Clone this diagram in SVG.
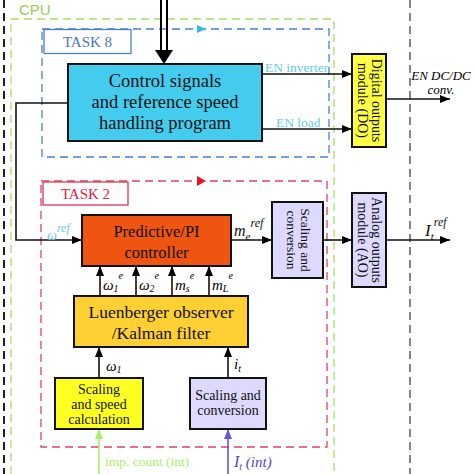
<svg xmlns="http://www.w3.org/2000/svg" width="474" height="474" viewBox="0 0 474 474">
<defs>
<marker id="ah" markerWidth="10" markerHeight="8" refX="10" refY="4" orient="auto" markerUnits="userSpaceOnUse"><path d="M0,0 L10,4 L0,8 z" fill="#000"/></marker>
<marker id="ahg" markerWidth="10" markerHeight="8" refX="10" refY="4" orient="auto" markerUnits="userSpaceOnUse"><path d="M0,0 L10,4 L0,8 z" fill="#aaee66"/></marker>
<marker id="ahp" markerWidth="10" markerHeight="8" refX="10" refY="4" orient="auto" markerUnits="userSpaceOnUse"><path d="M0,0 L10,4 L0,8 z" fill="#6655dd"/></marker>
</defs>
<style>
.t{font-family:"Liberation Serif","DejaVu Serif",serif;text-anchor:middle;fill:#111}
.box{stroke:#111;stroke-width:2}
.c{stroke:#111;stroke-width:1.6;fill:none}
.lab{font-family:"Liberation Serif","DejaVu Serif",serif;font-size:13.5px}
.it{font-family:"Liberation Serif","DejaVu Serif",serif;font-style:italic}
</style>
<rect width="474" height="474" fill="#fff"/>
<g id="boundaries">
<line x1="4" y1="0" x2="4" y2="474" stroke="#222" stroke-width="2" stroke-dasharray="8,5"/>
<line x1="410" y1="0" x2="410" y2="474" stroke="#444" stroke-width="1.3" stroke-dasharray="8,5"/>
<rect x="11" y="19" width="323" height="470" fill="none" stroke="#aadd66" stroke-width="1.3" stroke-dasharray="8,5"/>
<text x="19" y="15" font-family="Liberation Sans,Arial,sans-serif" font-size="15" fill="#99cc55">CPU</text>
</g>
<g id="task8">
<rect x="42" y="29" width="287" height="128" fill="none" stroke="#4a7fd0" stroke-width="1.3" stroke-dasharray="8,5"/>
<path d="M197,25 L206,29 L197,33 z" fill="#33bbee"/>
<rect x="44" y="29.5" width="87" height="24" fill="#fff" stroke="#4a7fd0" stroke-width="1.3"/>
<text x="87.5" y="47" class="t" font-size="15" style="fill:#4a77bb">TASK 8</text>
</g>
<g id="task2">
<rect x="41" y="181" width="286" height="266" fill="none" stroke="#dd4466" stroke-width="1.3" stroke-dasharray="8,5"/>
<path d="M197,176 L206,181 L197,186 z" fill="#ee1122"/>
<rect x="43" y="182" width="85" height="23" fill="#fff" stroke="#dd3355" stroke-width="1.3"/>
<text x="85.5" y="199" class="t" font-size="15" style="fill:#dd2244">TASK 2</text>
</g>
<g id="connectors">
<line x1="161" y1="0" x2="161" y2="52" stroke="#000" stroke-width="2"/>
<line x1="167" y1="0" x2="167" y2="52" stroke="#000" stroke-width="2"/>
<path d="M155,50 L173,50 L164,64 z" fill="#000"/>
<line x1="262" y1="74" x2="352" y2="74" class="c" marker-end="url(#ah)"/>
<line x1="262" y1="129" x2="352" y2="129" class="c" marker-end="url(#ah)"/>
<line x1="386" y1="99" x2="450" y2="99" class="c" marker-end="url(#ah)"/>
<polyline points="68,103 16,103 16,240 82,240" class="c" marker-end="url(#ah)"/>
<line x1="231" y1="240" x2="272" y2="240" class="c" marker-end="url(#ah)"/>
<line x1="323" y1="240" x2="352" y2="240" class="c" marker-end="url(#ah)"/>
<line x1="386" y1="240" x2="450" y2="240" class="c" marker-end="url(#ah)"/>
<line x1="100" y1="296" x2="100" y2="266" class="c" marker-end="url(#ah)"/>
<line x1="136" y1="296" x2="136" y2="266" class="c" marker-end="url(#ah)"/>
<line x1="172" y1="296" x2="172" y2="266" class="c" marker-end="url(#ah)"/>
<line x1="209" y1="296" x2="209" y2="266" class="c" marker-end="url(#ah)"/>
<line x1="99" y1="378" x2="99" y2="347" class="c" marker-end="url(#ah)"/>
<line x1="228" y1="378" x2="228" y2="347" class="c" marker-end="url(#ah)"/>
<line x1="99" y1="474" x2="99" y2="429" stroke="#aaee66" stroke-width="1.6" marker-end="url(#ahg)"/>
<line x1="228" y1="474" x2="228" y2="429" stroke="#6655dd" stroke-width="1.6" marker-end="url(#ahp)"/>
</g>
<g id="labels">
<text x="265" y="72" class="lab" fill="#66ccee">EN inverter</text>
<text x="276" y="127" class="lab" fill="#66ccee">EN load</text>
<text x="441" y="80" class="it" font-size="13" text-anchor="middle">EN DC/DC</text>
<text x="441" y="94" class="it" font-size="13" text-anchor="middle">conv.</text>
<text x="47" y="240" class="it" font-size="14" fill="#66ccee">ω<tspan dy="-8" font-size="12">ref</tspan></text>
<text x="234" y="236" class="it" font-size="16" fill="#111">m<tspan dy="4" font-size="11">e</tspan><tspan dy="-13" font-size="12">ref</tspan></text>
<text x="425" y="236" class="it" font-size="17" fill="#111">I<tspan dy="4" font-size="11">t</tspan><tspan dy="-14" font-size="12">ref</tspan></text>
<text x="103" y="290" class="it" font-size="15">ω<tspan dy="2" font-size="10">1</tspan><tspan dy="-13" font-size="10">e</tspan></text>
<text x="139" y="290" class="it" font-size="15">ω<tspan dy="2" font-size="10">2</tspan><tspan dy="-13" font-size="10">e</tspan></text>
<text x="175" y="290" class="it" font-size="15">m<tspan dy="2" font-size="10">s</tspan><tspan dy="-13" font-size="10">e</tspan></text>
<text x="212" y="290" class="it" font-size="15">m<tspan dy="2" font-size="10">L</tspan><tspan dy="-13" font-size="10">e</tspan></text>
<text x="106" y="371" class="it" font-size="15">ω<tspan dy="2" font-size="10">1</tspan></text>
<text x="234" y="369" class="it" font-size="15">i<tspan dy="3" font-size="10">t</tspan></text>
<text x="105" y="466" class="lab" fill="#aaee66">imp. count (int)</text>
<text x="234" y="467" class="it" font-size="16" fill="#5544cc">I<tspan dy="3" font-size="10">t</tspan><tspan dy="-3" font-size="15"> (int)</tspan></text>
</g>
<g id="control">
<rect x="68" y="64" width="194" height="77" fill="#44ccee" class="box"/>
<text x="165" y="87" class="t" font-size="18.5">Control signals</text>
<text x="165" y="108" class="t" font-size="18.5">and reference speed</text>
<text x="165" y="129" class="t" font-size="18.5">handling program</text>
</g>
<g id="do">
<rect x="352" y="54" width="34" height="93" fill="#ffff44" class="box"/>
<text transform="translate(369,100.5) rotate(90)" class="t" font-size="14" y="-3">Digital outputs</text>
<text transform="translate(369,100.5) rotate(90)" class="t" font-size="14" y="11">module (DO)</text>
</g>
<g id="predictive">
<rect x="82" y="215" width="149" height="51" fill="#ee5511" class="box"/>
<text x="156.5" y="237" class="t" font-size="16.5">Predictive/PI</text>
<text x="156.5" y="258" class="t" font-size="16.5">controller</text>
</g>
<g id="scaling1">
<rect x="272" y="202" width="51" height="76" fill="#ddd9ff" class="box"/>
<text transform="translate(297.5,240) rotate(90)" class="t" font-size="13.5" y="-3">Scaling and</text>
<text transform="translate(297.5,240) rotate(90)" class="t" font-size="13.5" y="11">conversion</text>
</g>
<g id="ao">
<rect x="352" y="193" width="34" height="94" fill="#ddd9ff" class="box"/>
<text transform="translate(369,240) rotate(90)" class="t" font-size="14" y="-3">Analog outputs</text>
<text transform="translate(369,240) rotate(90)" class="t" font-size="14" y="11">module (AO)</text>
</g>
<g id="observer">
<rect x="74" y="296" width="174" height="51" fill="#ffd033" class="box"/>
<text x="161" y="318" class="t" font-size="17.5">Luenberger observer</text>
<text x="161" y="339" class="t" font-size="17.5">/Kalman filter</text>
</g>
<g id="speed">
<rect x="55" y="378" width="88" height="51" fill="#ffff22" class="box"/>
<text x="99" y="394" class="t" font-size="14">Scaling</text>
<text x="99" y="409" class="t" font-size="14">and speed</text>
<text x="99" y="424" class="t" font-size="14">calculation</text>
</g>
<g id="scaling2">
<rect x="190" y="378" width="76" height="51" fill="#ddd9ff" class="box"/>
<text x="228" y="400" class="t" font-size="14">Scaling and</text>
<text x="228" y="415" class="t" font-size="14">conversion</text>
</g>
</svg>
